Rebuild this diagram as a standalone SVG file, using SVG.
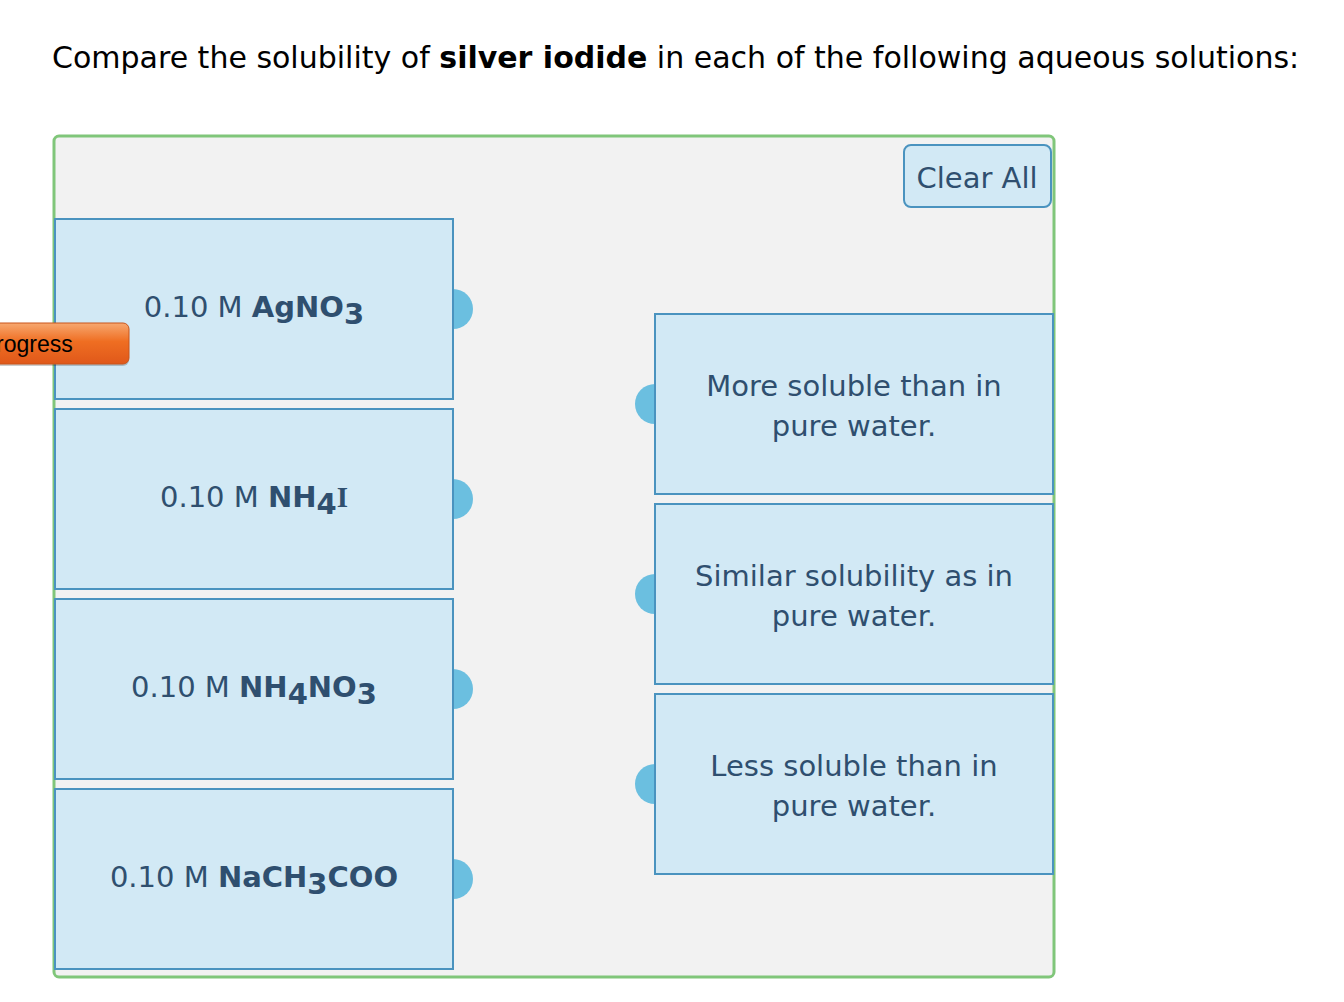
<svg xmlns="http://www.w3.org/2000/svg" width="1344" height="1002" viewBox="0 0 1344 1002">
<defs>
<style>
.t{font-family:"DejaVu Sans",Verdana,sans-serif;font-size:29px;fill:#2f4f6f}
.b{font-weight:bold}
.n{fill:#d2e9f5;stroke:#4a93bf;stroke-width:2}
.d{fill:#6bbfe0}
</style>
<linearGradient id="og" x1="0" y1="0" x2="0" y2="1"><stop offset="0" stop-color="#f7a870"/><stop offset="0.45" stop-color="#ef6e22"/><stop offset="1" stop-color="#e0581a"/></linearGradient>
</defs>
<rect width="1344" height="1002" fill="#fff"/>
<text x="52" y="68" font-family="DejaVu Sans,Verdana,sans-serif" font-size="30" fill="#000">Compare the solubility of <tspan font-weight="bold">silver iodide</tspan> in each of the following aqueous solutions:</text>
<rect x="54" y="136" width="1000" height="841" rx="5" fill="#f2f2f2" stroke="#80c67a" stroke-width="3"/>
<g id="clear"><rect x="904" y="145" width="147" height="62" rx="7" class="n"/><text x="977" y="188" text-anchor="middle" class="t">Clear All</text></g>
<g id="connectors">
<circle cx="453" cy="309" r="20" class="d"/><circle cx="453" cy="499" r="20" class="d"/><circle cx="453" cy="689" r="20" class="d"/><circle cx="453" cy="879" r="20" class="d"/>
<circle cx="655" cy="404" r="20" class="d"/><circle cx="655" cy="594" r="20" class="d"/><circle cx="655" cy="784" r="20" class="d"/>
</g>
<g id="n1"><rect x="55" y="219" width="398" height="180" class="n"/><text x="254" y="317" text-anchor="middle" class="t">0.10 M <tspan class="b">AgNO<tspan dy="7">3</tspan></tspan></text></g>
<g id="n2"><rect x="55" y="409" width="398" height="180" class="n"/><text x="254" y="507" text-anchor="middle" class="t">0.10 M <tspan class="b">NH<tspan dy="7">4</tspan><tspan dy="-7" font-family="Liberation Serif,serif">I</tspan></tspan></text></g>
<g id="n3"><rect x="55" y="599" width="398" height="180" class="n"/><text x="254" y="697" text-anchor="middle" class="t">0.10 M <tspan class="b">NH<tspan dy="7">4</tspan><tspan dy="-7">NO</tspan><tspan dy="7">3</tspan></tspan></text></g>
<g id="n4"><rect x="55" y="789" width="398" height="180" class="n"/><text x="254" y="887" text-anchor="middle" class="t">0.10 M <tspan class="b">NaCH<tspan dy="7">3</tspan><tspan dy="-7">COO</tspan></tspan></text></g>
<g id="r1"><rect x="655" y="314" width="398" height="180" class="n"/><text x="854" y="396" text-anchor="middle" class="t">More soluble than in</text><text x="854" y="436" text-anchor="middle" class="t">pure water.</text></g>
<g id="r2"><rect x="655" y="504" width="398" height="180" class="n"/><text x="854" y="586" text-anchor="middle" class="t">Similar solubility as in</text><text x="854" y="626" text-anchor="middle" class="t">pure water.</text></g>
<g id="r3"><rect x="655" y="694" width="398" height="180" class="n"/><text x="854" y="776" text-anchor="middle" class="t">Less soluble than in</text><text x="854" y="816" text-anchor="middle" class="t">pure water.</text></g>
<g id="progress"><rect x="-12" y="326" width="141" height="40" rx="6" fill="#000" opacity="0.2"/><rect x="-12" y="323" width="141" height="41" rx="6" fill="url(#og)" stroke="#c9551b"/><text x="-4" y="352" font-family="Liberation Sans,Arial,sans-serif" font-size="23" fill="#000">rogress</text></g>
</svg>
